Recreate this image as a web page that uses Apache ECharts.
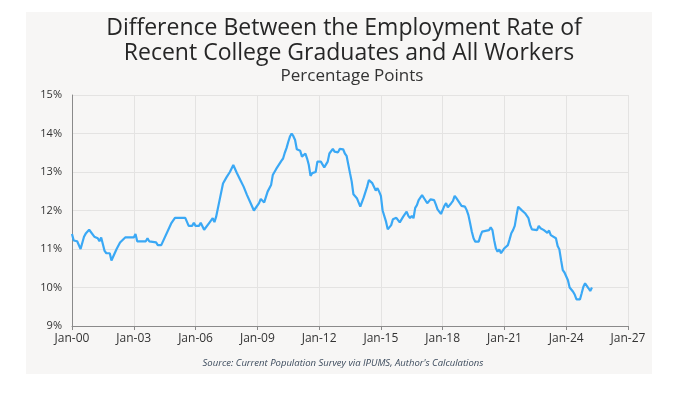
<!DOCTYPE html>
<html><head><meta charset="utf-8">
<script src="https://cdn.jsdelivr.net/npm/echarts@6/dist/echarts.min.js"></script>
<style>html,body{margin:0;padding:0;background:#fff}#c{width:678px;height:393px}</style>
</head><body><div id="c"></div>
<script>
// Month index since Jan-2000
const months = [0,1,3,5,7,8,10,13,15,16,17,18,19,20,22,23,24,26,28,29,31,36,37,38,43,44,45,49,50,52,58,60,66,68,70,71,72,74,75,76,77,78,80,82,83,84,86,88,90,91,92,94,95,96,98,100,101,102,104,106,107,109,110,112,114,116,117,119,120,122,123,124,125,126,127,128,129,130,131,133,134,135,136,137,138,139,140,142,143,144,145,147,149,150,151,152,153,155,156,158,159,160,162,163,164,165,166,168,169,170,172,173,175,176,177,178,179,180,181,183,184,185,186,187,189,190,191,192,193,194,195,196,197,198,199,200,201,202,204,205,206,207,209,210,211,212,213,215,216,217,218,219,221,222,223,224,225,227,228,229,230,231,232,233,234,235,237,238,239,240,243,244,245,246,247,248,249,250,251,252,253,254,255,256,257,258,259,260,261,262,263,264,265,266,267,268,269,271,272,273,275,276,277,278,279,280,282,283,284,285,286,287,288,289,290,291,292,293,294,296,297,298,299,300,301,302,303];
// Difference in employment rate, percentage points
const values = [11.39,11.22,11.2,11.0,11.32,11.4,11.5,11.32,11.28,11.2,11.3,11.3,10.95,10.89,10.89,10.7,10.71,11.0,11.17,11.12,11.3,11.3,11.39,11.2,11.2,11.28,11.2,11.17,11.1,11.1,11.68,11.81,11.81,11.6,11.6,11.68,11.6,11.6,11.68,11.68,11.5,11.5,11.68,11.8,11.7,11.84,12.27,12.7,12.86,12.9,13.0,13.18,13.18,12.98,12.8,12.62,12.6,12.4,12.2,12.0,12.0,12.19,12.3,12.21,12.49,12.66,12.92,13.08,13.1,13.29,13.35,13.5,13.62,13.78,13.92,14.0,13.93,13.83,13.59,13.55,13.4,13.4,13.48,13.35,13.18,12.9,12.97,13.0,13.27,13.29,13.27,13.12,13.27,13.48,13.5,13.6,13.53,13.51,13.6,13.59,13.48,13.42,12.97,12.75,12.42,12.38,12.32,12.1,12.08,12.34,12.62,12.79,12.71,12.66,12.52,12.58,12.49,12.38,12.0,11.71,11.51,11.51,11.62,11.77,11.81,11.8,11.69,11.7,11.84,11.88,11.97,11.86,11.8,11.86,11.8,12.07,12.14,12.27,12.4,12.38,12.26,12.19,12.29,12.3,12.27,12.16,12.03,11.91,11.91,12.12,12.19,12.08,12.19,12.25,12.38,12.32,12.27,12.12,12.1,12.1,12.01,11.88,11.67,11.45,11.28,11.19,11.19,11.34,11.45,11.49,11.49,11.56,11.49,11.23,11.02,10.93,10.99,10.89,10.89,11.02,11.06,11.1,11.25,11.41,11.49,11.6,11.86,12.1,12.1,12.01,12.0,11.93,11.91,11.8,11.62,11.51,11.49,11.49,11.6,11.54,11.49,11.48,11.42,11.48,11.36,11.32,11.28,11.08,10.99,10.71,10.45,10.39,10.37,10.19,10.0,9.98,9.89,9.81,9.69,9.69,9.85,10.02,10.11,10.09,9.98,9.91,10.0];
const xTickLabels = ['Jan-00','Jan-03','Jan-06','Jan-09','Jan-12','Jan-15','Jan-18','Jan-21','Jan-24','Jan-27'];
const titleLines = ['Difference Between the Employment Rate of','Recent College Graduates and All Workers'];
const subtitle = 'Percentage Points';
const source = "Source: Current Population Survey via IPUMS, Author's Calculations";

const seriesData = months.map((m, i) => [m, values[i]]);
const chart = echarts.init(document.getElementById('c'), null, {renderer: 'canvas'});
const font = '"Open Sans", Lato, sans-serif';
chart.setOption({
  backgroundColor: '#ffffff',
  animation: false,
  graphic: [
    {type: 'rect', silent: true, z: -10, shape: {x: 26, y: 12, width: 626, height: 362}, style: {fill: '#f7f6f5'}},
    {type: 'text', x: 344, y: 28, style: {text: titleLines[0], font: '23px ' + font, fill: '#262626', textAlign: 'center', textVerticalAlign: 'middle'}},
    {type: 'text', x: 349, y: 53, style: {text: titleLines[1], font: '23px ' + font, fill: '#262626', textAlign: 'center', textVerticalAlign: 'middle'}},
    {type: 'text', x: 352, y: 76, style: {text: subtitle, font: '17px ' + font, fill: '#333', textAlign: 'center', textVerticalAlign: 'middle'}},
    {type: 'text', x: 343, y: 363, style: {text: source, font: 'italic 9.5px ' + font, fill: '#3b4a5c', textAlign: 'center', textVerticalAlign: 'middle'}}
  ],
  grid: {left: 72, right: 50, top: 95, bottom: 67, containLabel: false},
  xAxis: {
    type: 'value', min: 0, max: 324, interval: 36,
    axisLine: {show: true, lineStyle: {color: '#8a8a8a', width: 1}},
    axisTick: {show: true, length: 4, lineStyle: {color: '#8a8a8a'}},
    splitLine: {show: true, lineStyle: {color: '#e4e3e2', width: 1}},
    axisLabel: {color: '#333', fontSize: 12, fontFamily: font, margin: 7,
      formatter: v => xTickLabels[Math.round(v / 36)]}
  },
  yAxis: {
    type: 'value', min: 9, max: 15, interval: 1,
    axisLine: {show: true, lineStyle: {color: '#8a8a8a', width: 1}},
    axisTick: {show: false},
    splitLine: {show: true, lineStyle: {color: '#e4e3e2', width: 1}},
    axisLabel: {color: '#333', fontSize: 11, fontFamily: font, margin: 10, formatter: v => v + '%'}
  },
  series: [{
    type: 'line', data: seriesData, showSymbol: false, smooth: false,
    lineStyle: {color: '#3aa8f5', width: 2.2}
  }]
});
</script></body></html>
